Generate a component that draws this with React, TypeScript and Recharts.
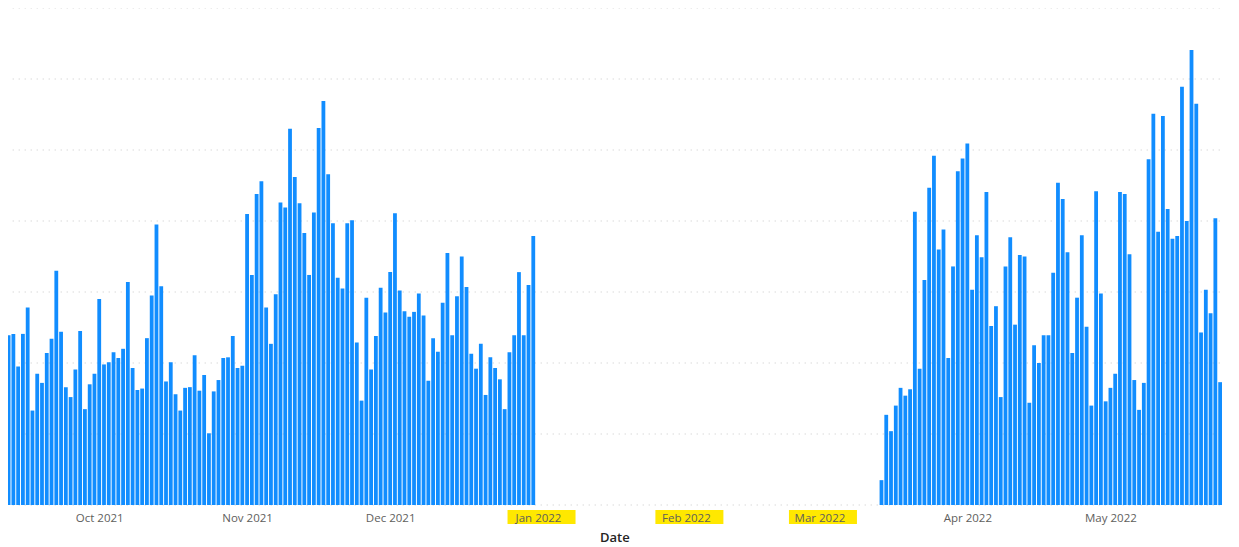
import React from 'react';
import { BarChart, Bar, XAxis, YAxis, CartesianGrid } from 'recharts';

// daily values, 12 Sep 2021 - 31 Dec 2021
const firstStart = '2021-09-12';
const autumnValues = [
  23.9, 24.1, 19.5, 24.1, 27.8, 13.3, 18.5, 17.2, 21.4, 23.4,
  33.0, 24.4, 16.6, 15.2, 19.1, 24.5, 13.5, 17.0, 18.5, 29.0,
  19.8, 20.1, 21.5, 20.7, 22.0, 31.4, 19.3, 16.2, 16.4, 23.5,
  29.5, 39.5, 30.8, 17.4, 20.1, 15.6, 13.3, 16.5, 16.6, 21.1,
  16.1, 18.3, 10.1, 16.0, 17.6, 20.7, 20.8, 23.8, 19.3, 19.6,
  41.0, 32.4, 43.8, 45.6, 27.8, 22.7, 29.7, 42.6, 41.9, 53.0,
  46.2, 42.5, 38.3, 32.4, 41.2, 53.1, 56.9, 46.6, 39.7, 32.0,
  30.5, 39.7, 40.1, 22.9, 14.7, 29.2, 19.1, 23.8, 30.6, 27.1,
  32.8, 41.1, 30.2, 27.3, 26.5, 27.2, 29.8, 26.7, 17.5, 23.5,
  21.6, 28.5, 35.5, 23.9, 29.4, 35.0, 30.7, 21.3, 19.2, 22.7,
  15.5, 20.8, 19.3, 17.7, 13.5, 21.5, 23.9, 32.8, 23.9, 31.0,
  37.9,
];

// daily values, 14 Mar 2022 - 24 May 2022
const secondStart = '2022-03-14';
const springValues = [
  3.5, 12.7, 10.4, 14.0, 16.5, 15.4, 16.3, 41.3, 19.2, 31.7,
  44.7, 49.2, 36.0, 38.8, 20.7, 33.6, 47.0, 48.8, 50.9, 30.3,
  38.0, 34.9, 44.1, 25.2, 28.0, 15.2, 33.6, 37.7, 25.4, 35.2,
  35.0, 14.4, 22.5, 20.0, 23.9, 23.9, 32.7, 45.4, 43.1, 35.6,
  21.4, 29.2, 38.0, 25.1, 14.0, 44.2, 29.8, 14.6, 16.5, 18.5,
  44.1, 43.8, 35.3, 17.6, 13.4, 17.2, 48.7, 55.1, 38.5, 54.8,
  41.7, 37.5, 37.9, 58.9, 40.0, 64.1, 56.5, 24.3, 30.3, 27.0,
  40.4, 17.3,
];

const monthTicks = ['2021-10-01', '2021-11-01', '2021-12-01', '2022-01-01', '2022-02-01', '2022-03-01', '2022-04-01', '2022-05-01'];
const monthLabels = ['Oct 2021', 'Nov 2021', 'Dec 2021', 'Jan 2022', 'Feb 2022', 'Mar 2022', 'Apr 2022', 'May 2022'];
const highlighted = ['Jan 2022', 'Feb 2022', 'Mar 2022'];
const gridTicks = [0, 10, 20, 30, 40, 50, 60, 70];

const DAY = 86400000;
const iso = (t: number) => new Date(t).toISOString().slice(0, 10);

const buildData = () => {
  const t0 = Date.parse(firstStart + 'T00:00:00Z');
  const t2 = Date.parse(secondStart + 'T00:00:00Z');
  const tEnd = t2 + (springValues.length - 1) * DAY;
  const rows: { date: string; value: number | null }[] = [];
  for (let t = t0; t <= tEnd; t += DAY) {
    const a = Math.round((t - t0) / DAY);
    const b = Math.round((t - t2) / DAY);
    let value: number | null = null;
    if (a < autumnValues.length) value = autumnValues[a];
    else if (b >= 0) value = springValues[b];
    rows.push({ date: iso(t), value });
  }
  return rows;
};

const data = buildData();

const MonthTick = (props: any) => {
  const { x, y, payload } = props;
  const label = monthLabels[monthTicks.indexOf(payload.value)] ?? '';
  const mark = highlighted.includes(label);
  return (
    <g>
      {mark && <rect x={x - 31} y={y + 5} width={68} height={14} fill="#FFE800" />}
      <text x={x} y={y + 17} textAnchor="middle" fill="#605E5C" fontSize={11.5} fontFamily="'Segoe UI', 'Open Sans', sans-serif">
        {label}
      </text>
    </g>
  );
};

const App: React.FC = () => {
  return (
    <div style={{ position: 'relative', left: -8, top: -8, width: 1239, height: 547 }}>
      <BarChart
        width={1239}
        height={547}
        data={data}
        margin={{ top: 8, right: 16, left: 6.7, bottom: 0 }}
      >
        <CartesianGrid vertical={false} stroke="#C8C8C8" strokeDasharray="1 5" />
        <XAxis
          dataKey="date"
          ticks={monthTicks}
          interval={0}
          tick={<MonthTick />}
          tickLine={false}
          axisLine={false}
          tickSize={0}
          tickMargin={0}
          height={42}
          label={{ value: 'Date', position: 'insideBottom', offset: 5, fill: '#252423', fontSize: 13, fontWeight: 600, fontFamily: "'Segoe UI', 'Open Sans', sans-serif" }}
        />
        <YAxis hide domain={[0, 70]} ticks={gridTicks} />
        <Bar dataKey="value" fill="#118DFF" barSize={3.8} isAnimationActive={false} />
      </BarChart>
    </div>
  );
};

export default App;
